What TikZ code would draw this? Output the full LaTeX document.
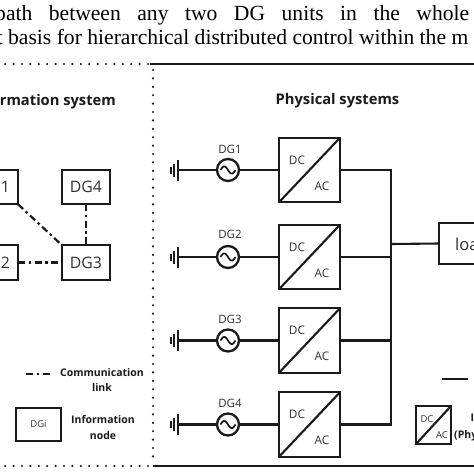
\documentclass[tikz,border=0pt]{standalone}
\usepackage{fontspec}
\setmainfont{Open Sans}
\newfontfamily\serifface{Liberation Serif}
\definecolor{ink}{HTML}{1A1A1A}
\definecolor{soft}{HTML}{303030}
\tikzset{
  x=1pt,y=-1pt,
  wire/.style={draw=ink,line width=2.1pt},
  commlink/.style={draw=ink,line width=2.2pt,dash pattern=on 7pt off 3.5pt on 2.5pt off 3.5pt},
  framedot/.style={draw=ink,line width=2.4pt,line cap=round,dash pattern=on 0pt off 8.4pt},
  framesolid/.style={draw=ink,line width=1.9pt},
  infobox/.style={draw=ink,line width=2.1pt,inner sep=0pt,outer sep=0pt,minimum width=48pt,minimum height=34.5pt,text=soft,font=\fontsize{15.8}{18}\selectfont},
  convbox/.style={draw=ink,line width=2.1pt,inner sep=0pt,outer sep=0pt,minimum width=61pt,minimum height=64.5pt},
  srccirc/.style={circle,draw=ink,line width=2.3pt,inner sep=0pt,outer sep=0pt,minimum size=22pt},
  small/.style={text=soft,font=\fontsize{11.5}{13}\selectfont,inner sep=0pt},
  conv/.style={text=soft,font=\fontsize{11.8}{13}\selectfont,inner sep=0pt},
  heading/.style={text=ink,font=\bfseries\fontsize{14.7}{16}\selectfont,inner sep=0pt},
  legendtext/.style={text=ink,font=\bfseries\fontsize{10.5}{12}\selectfont,inner sep=0pt},
  bodytext/.style={text=black,font=\serifface\fontsize{21.6}{24}\selectfont,inner sep=0pt,anchor=base west},
}
\begin{document}
\begin{tikzpicture}
\useasboundingbox (0,0) rectangle (474,474);
\clip (0,0) rectangle (474,474);
\fill[white] (0,0) rectangle (474,474);
% body text
\node[bodytext] (line1) at (-5,20) {\makebox[474pt][s]{path between any two DG units in the whole}};
\node[bodytext] (line2) at (8,44) {basis for hierarchical distributed control within the m};
\node[bodytext,anchor=base east] (line2a) at (3,44) {t};
% frame
\draw[framedot] (148,64) -- (0,64);
\draw[framedot] (153,70) -- (153,462);
\draw[framedot] (148,466) -- (0,466);
\draw[framesolid] (150,64) -- (474,64);
\draw[framesolid] (153,466) -- (474,466);
% headings
\node[heading,anchor=east] (infotitle) at (116,102) {rmation system};
\node[heading] (phystitle) at (337.5,101) {Physical systems};
% information nodes
\node[infobox] (dg1) at (-6,187) {\phantom{DG}1};
\node[infobox] (dg4) at (86,187) {DG4};
\node[infobox] (dg2) at (-6,262.5) {\phantom{DG}2};
\node[infobox] (dg3) at (86,262.5) {DG3};
\draw[commlink] (dg1.south east) -- (dg3.north west);
\draw[commlink] (dg4.south) -- (dg3.north);
\draw[commlink] (dg2.east) -- (dg3.west);
% legend left
\coordinate (la) at (26,374);
\coordinate (lb) at (53,374);
\draw[commlink] (la) -- (lb);
\node[legendtext,align=center] (commtext) at (102,380) {Communication\\[3.5pt]link};
\node[draw=ink,line width=1.9pt,inner sep=0pt,outer sep=0pt,minimum width=45pt,minimum height=33pt,text=soft,font=\fontsize{9.5}{11}\selectfont] (dgi) at (38.5,424.5) {DGi};
\node[legendtext,align=center] (infotext) at (103,427.5) {Information\\[3.5pt]node};
% physical side
\foreach \n/\y/\ylab in {1/170/149, 2/257/234, 3/340.5/319, 4/424.5/403}{
  \coordinate (g\n) at (178,\y);
  \node[srccirc] (s\n) at (228,\y) {};
  \node[small] (lab\n) at (230,\ylab) {DG\n};
  \draw[wire] (g\n) -- (s\n);
  \draw[ink,line width=2.6pt] (178,\y-10.5) -- (178,\y+10.5);
  \draw[ink,line width=2.2pt] (174,\y-6.5) -- (174,\y+6.5);
  \draw[ink,line width=2pt] (171,\y-3.5) -- (171,\y+3.5);
  \draw[ink,line width=1.7pt,domain=0:360,samples=40,smooth,variable=\t]
    plot ({220.5+15*\t/360},{\y-3.6*sin(\t)});
  \node[convbox] (c\n) at (309.5,\y) {};
  \draw[wire] (c\n.south west) -- (c\n.north east);
  \node[conv] (dc\n) at (297,\y-10) {DC};
  \node[conv] (ac\n) at (322,\y+16) {AC};
  \coordinate (b\n) at (391,\y);
  \draw[wire] (s\n) -- (c\n);
  \draw[wire] (c\n.east) -- (b\n);
}
\draw[wire,line cap=rect] (b1) -- (b4);
% load
\node[draw=ink,line width=2.1pt,inner sep=0pt,outer sep=0pt,minimum width=70pt,minimum height=41pt] (load) at (474,243.5) {};
\node[text=soft,font=\fontsize{16.5}{18}\selectfont,inner sep=0pt,anchor=west] (loadtext) at (455,244) {loa};
\coordinate (lj) at (391,244);
\draw[wire] (lj) -- (load.west);
% legend right
\coordinate (pa) at (442,379);
\coordinate (pb) at (468,379);
\draw[wire] (pa) -- (pb);
\node[draw=ink,line width=1.9pt,inner sep=0pt,outer sep=0pt,minimum width=35pt,minimum height=38pt] (lc) at (433.5,425) {};
\draw[wire] (lc.south west) -- (lc.north east);
\node[text=soft,font=\fontsize{9.5}{11}\selectfont,inner sep=0pt] (ldc) at (427,419) {DC};
\node[text=soft,font=\fontsize{9.5}{11}\selectfont,inner sep=0pt] (lac) at (442,435) {AC};
\node[legendtext,anchor=west] (it) at (470.5,418) {I};
\node[legendtext,anchor=west] (pt) at (454,435.5) {(Phy};
\end{tikzpicture}
\end{document}
